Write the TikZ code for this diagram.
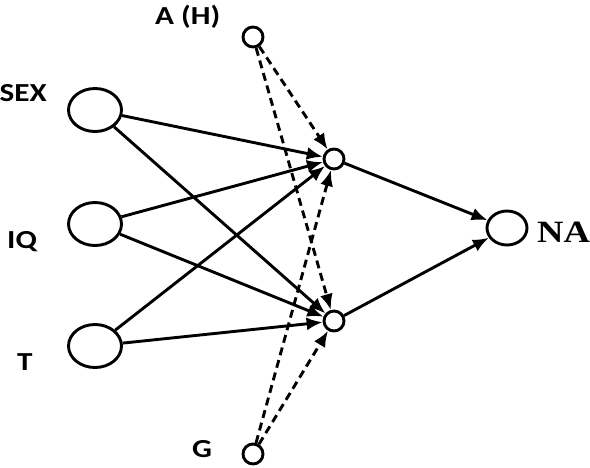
\documentclass[tikz,border=0pt]{standalone}
\usepackage{fontspec}
\newfontfamily\lblfont{Carlito}[FakeStretch=1.2]
\newfontfamily\tnrfont{Liberation Serif}[FakeStretch=1.18]
\usetikzlibrary{arrows.meta,shapes.geometric}

\tikzset{
  unit/.style={draw,circle,line width=2.9pt,inner sep=0pt,minimum size=20pt},
  bigunit/.style={draw,ellipse,line width=2.9pt,inner sep=0pt,minimum width=53pt,minimum height=43pt},
  lbl/.style={inner sep=0pt,font=\lblfont\bfseries\fontsize{26}{28}\selectfont},
  link/.style={line width=2.9pt,-{Latex[length=16pt,width=13pt]}},
  dlink/.style={link,dash pattern=on 8pt off 5pt}
}

\begin{document}
\begin{tikzpicture}[x=1pt,y=-1pt]
\useasboundingbox (0,0) rectangle (590,467);

% inputs
\node[bigunit] (SEX) at (95,110) {};
\node[bigunit] (IQ) at (95,224) {};
\node[bigunit] (T) at (95,346) {};
\node[unit] (A) at (253,37) {};
\node[unit] (G) at (253,454) {};

% hidden and output
\node[unit] (H1) at (334,159) {};
\node[unit] (H2) at (334,321) {};
\node[bigunit,minimum width=40pt,minimum height=34pt] (NA) at (507,228) {};

\node[lbl,anchor=base east] (lSEX) at (47,101) {SEX};
\node[lbl,anchor=base west] (lIQ) at (7,248) {IQ};
\node[lbl,anchor=base west] (lT) at (17,370) {T};
\node[lbl,anchor=base west] (lA) at (155,24) {A (H)};
\node[lbl,anchor=base west] (lG) at (192,457) {G};
\node[inner sep=0pt,font=\tnrfont\bfseries\fontsize{31}{32}\selectfont,anchor=base west] (lNA) at (537,242) {NA};

\foreach \s in {SEX,IQ,T}
  \foreach \h in {H1,H2}
    \draw[link] (\s) -- (\h);
\foreach \s in {A,G}
  \foreach \h in {H1,H2}
    \draw[dlink] (\s) -- (\h);
\draw[link] (H1) -- (NA);
\draw[link] (H2) -- (NA);
\end{tikzpicture}
\end{document}
